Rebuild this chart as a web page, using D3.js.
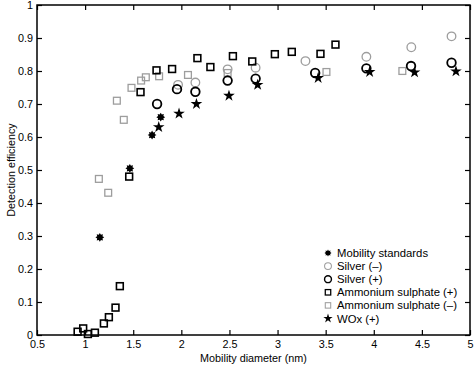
<!DOCTYPE html>
<html><head><meta charset="utf-8">
<script src="https://cdn.jsdelivr.net/npm/d3@7"></script>
<style>body{margin:0;background:#fff}svg{display:block}text{font-family:"Liberation Sans",Arial,sans-serif;fill:#000}</style>
</head><body><svg id="c" width="474" height="366"></svg>
<script>
const xTicks = [0.5,1,1.5,2,2.5,3,3.5,4,4.5,5];
const yTicks = [0,0.1,0.2,0.3,0.4,0.5,0.6,0.7,0.8,0.9,1];
const xTickLabels = ["0.5","1","1.5","2","2.5","3","3.5","4","4.5","5"];
const yTickLabels = ["0","0.1","0.2","0.3","0.4","0.5","0.6","0.7","0.8","0.9","1"];

const mobilityX = [1.153,1.465,1.696,1.786];
const mobilityY = [0.296,0.505,0.606,0.66];

const silverNegX = [1.966,2.146,2.481,2.772,3.29,3.923,4.39,4.808];
const silverNegY = [0.758,0.765,0.805,0.81,0.83,0.843,0.872,0.905];

const silverPosX = [1.748,1.955,2.146,2.481,2.772,3.391,3.923,4.387,4.808];
const silverPosY = [0.70,0.745,0.737,0.771,0.777,0.794,0.808,0.815,0.825];

const amsPosX = [0.922,0.98,1.029,1.102,1.195,1.247,1.316,1.361,1.458,1.576,1.742,1.904,2.167,2.302,2.536,2.737,2.972,3.148,3.446,3.602];
const amsPosY = [0.01,0.02,0.003,0.007,0.035,0.054,0.083,0.148,0.48,0.736,0.802,0.806,0.839,0.812,0.845,0.829,0.851,0.858,0.852,0.88];

const amsNegX = [1.143,1.24,1.33,1.402,1.482,1.582,1.631,1.769,2.069,2.481,3.508,4.297];
const amsNegY = [0.473,0.431,0.71,0.652,0.749,0.771,0.781,0.784,0.788,0.794,0.797,0.80];

const woxX = [1.765,1.976,2.157,2.495,2.793,3.422,3.957,4.424,4.854];
const woxY = [0.63,0.671,0.70,0.725,0.758,0.779,0.797,0.796,0.799];

const legendLabels = ["Mobility standards","Silver (\u2013)","Silver (+)","Ammonium sulphate (+)","Ammonium sulphate (\u2013)","WOx (+)"];

const svg = d3.select("#c");
const L = 37, R = 470, T = 5, B = 335;
const x = d3.scaleLinear().domain([0.5,5]).range([L,R]);
const y = d3.scaleLinear().domain([0,1]).range([B,T]);

const fs = "10.8px";
const ax = svg.append("g").attr("transform",`translate(0,${B})`)
  .call(d3.axisBottom(x).tickValues(xTicks).tickFormat((d,i)=>xTickLabels[i]).tickSizeInner(-5).tickSizeOuter(0).tickPadding(5));
const ay = svg.append("g").attr("transform",`translate(${L},0)`)
  .call(d3.axisLeft(y).tickValues(yTicks).tickFormat((d,i)=>yTickLabels[i]).tickSizeInner(-5).tickSizeOuter(0).tickPadding(4));
const axT = svg.append("g").attr("transform",`translate(0,${T})`)
  .call(d3.axisTop(x).tickValues(xTicks).tickFormat("").tickSizeInner(-5).tickSizeOuter(0));
const ayR = svg.append("g").attr("transform",`translate(${R},0)`)
  .call(d3.axisRight(y).tickValues(yTicks).tickFormat("").tickSizeInner(-5).tickSizeOuter(0));
[ax,ay,axT,ayR].forEach(g=>{
  g.select(".domain").remove();
  g.selectAll("line").attr("stroke","#000").attr("stroke-width",1.2);
  g.selectAll("text").style("font-size",fs).style("font-family",'"Liberation Sans",Arial,sans-serif');
});
svg.append("rect").attr("x",L).attr("y",T).attr("width",R-L).attr("height",B-T)
  .attr("fill","none").attr("stroke","#000").attr("stroke-width",1.5);

svg.append("text").attr("x",(L+R)/2).attr("y",362).attr("text-anchor","middle").style("font-size",fs).text("Mobility diameter (nm)");
svg.append("text").attr("transform",`translate(15,${(T+B)/2}) rotate(-90)`).attr("text-anchor","middle").style("font-size",fs).text("Detection efficiency");

function asteriskPath(r){
  const pts=[]; const n=8;
  for(let i=0;i<2*n;i++){const a=Math.PI*i/n - Math.PI/2; const rr = i%2===0? r : r*0.65; pts.push([rr*Math.cos(a), rr*Math.sin(a)]);}
  return "M"+pts.map(p=>p.join(",")).join("L")+"Z";
}
const starPath = d3.symbol().type(d3.symbolStar).size(42)();
const gray = "#9d9d9d";
const styles = [
  {draw:(g)=>g.append("path").attr("d",asteriskPath(4.4)).attr("fill","#000")},
  {draw:(g)=>g.append("circle").attr("r",4.3).attr("fill","none").attr("stroke",gray).attr("stroke-width",1.3)},
  {draw:(g)=>g.append("circle").attr("r",4.3).attr("fill","none").attr("stroke","#000").attr("stroke-width",1.8)},
  {draw:(g)=>g.append("rect").attr("x",-3.4).attr("y",-3.4).attr("width",6.8).attr("height",6.8).attr("fill","none").attr("stroke","#000").attr("stroke-width",1.6)},
  {draw:(g)=>g.append("rect").attr("x",-3.4).attr("y",-3.4).attr("width",6.8).attr("height",6.8).attr("fill","none").attr("stroke",gray).attr("stroke-width",1.3)},
  {draw:(g)=>g.append("path").attr("d",starPath).attr("fill","#000")}
];
const seriesX = [mobilityX,silverNegX,silverPosX,amsPosX,amsNegX,woxX];
const seriesY = [mobilityY,silverNegY,silverPosY,amsPosY,amsNegY,woxY];
const order = [4,1,3,2,5,0];
order.forEach(si=>{
  const g = svg.append("g");
  seriesX[si].forEach((xv,i)=>{
    const m = g.append("g").attr("transform",`translate(${x(xv)},${y(seriesY[si][i])})`);
    styles[si].draw(m);
  });
});

const lg = svg.append("g");
legendLabels.forEach((lab,i)=>{
  const yy = 253 + i*13.1;
  const m = lg.append("g").attr("transform",`translate(328,${yy}) scale(0.8)`);
  styles[i].draw(m);
  lg.append("text").attr("x",337).attr("y",yy+4).style("font-size","11.3px").text(lab);
});
</script></body></html>
